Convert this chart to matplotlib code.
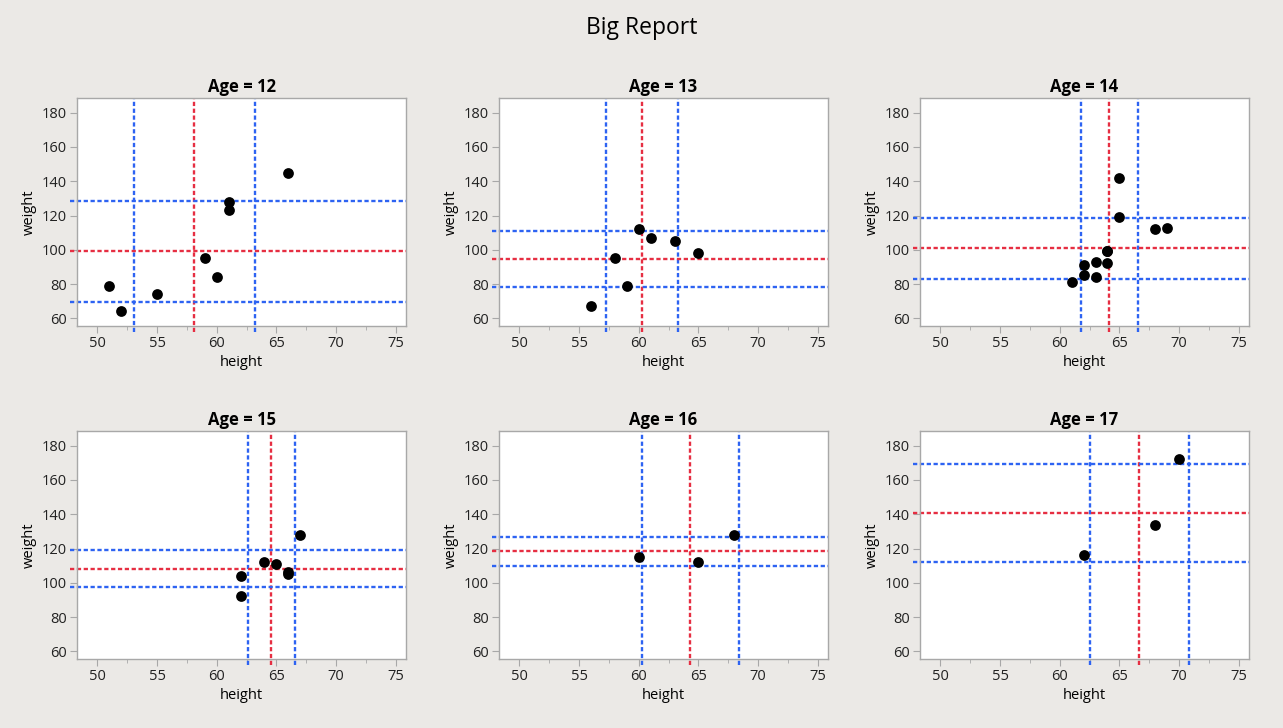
import numpy as np
import matplotlib
matplotlib.use("Agg")
import matplotlib.pyplot as plt

plt.rcParams['font.family'] = ['Open Sans', 'DejaVu Sans']

# Big Class data: age, height, weight per student
ages = [12, 12, 12, 12, 12, 12, 12, 12,
        13, 13, 13, 13, 13, 13, 13,
        14, 14, 14, 14, 14, 14, 14, 14, 14, 14, 14, 14,
        15, 15, 15, 15, 15, 15, 15,
        16, 16, 16,
        17, 17, 17]
heights = [59, 61, 55, 66, 52, 60, 61, 51,
           60, 61, 56, 65, 63, 58, 59,
           61, 62, 65, 63, 62, 63, 64, 65, 64, 68, 64, 69,
           62, 64, 67, 65, 66, 62, 66,
           65, 60, 68,
           62, 68, 70]
weights = [95, 123, 74, 145, 64, 84, 128, 79,
           112, 107, 67, 98, 105, 95, 79,
           81, 91, 142, 84, 85, 93, 99, 119, 92, 112, 99, 113,
           92, 112, 128, 111, 105, 104, 106,
           112, 115, 128,
           116, 134, 172]
age_groups = [12, 13, 14, 15, 16, 17]
x_ticks = [50, 55, 60, 65, 70, 75]
y_ticks = [60, 80, 100, 120, 140, 160, 180]

BG = "#ebe9e6"
RED = "#e62e42"
BLUE = "#2d63f2"
SPINE = "#a8a8a8"

fig = plt.figure(figsize=(12.83, 7.28), dpi=100, facecolor=BG)
fig.text(0.5, 0.962, "Big Report", ha="center", va="center", fontsize=16.5)

W, H = 1283.0, 728.0
lefts = [77, 499, 920]
bottoms = [326, 659]
aw, ah = 329, 228

ages_arr = np.array(ages)
h_arr = np.array(heights, dtype=float)
w_arr = np.array(weights, dtype=float)

for i, age in enumerate(age_groups):
    r, c = divmod(i, 3)
    ax = fig.add_axes([lefts[c] / W, 1 - bottoms[r] / H, aw / W, ah / H])
    ax.set_facecolor("white")
    mask = ages_arr == age
    hx = h_arr[mask]
    wy = w_arr[mask]

    # reference lines: mean (red) and mean +/- 1 sd (blue)
    hm, hs = hx.mean(), hx.std(ddof=1)
    wm, ws = wy.mean(), wy.std(ddof=1)
    dash = (0, (1.8, 1.1))
    for v, col in [(hm - hs, BLUE), (hm + hs, BLUE), (hm, RED)]:
        ax.axvline(v, ymin=-0.028, ymax=1, color=col, lw=1.7,
                   linestyle=dash, clip_on=False, zorder=2)
    for v, col in [(wm - ws, BLUE), (wm + ws, BLUE), (wm, RED)]:
        ax.axhline(v, xmin=-0.022, xmax=1, color=col, lw=1.7,
                   linestyle=dash, clip_on=False, zorder=2)

    ax.scatter(hx, wy, s=60, color="black", zorder=3, linewidths=0)

    ax.set_xlim(48.3, 75.85)
    ax.set_ylim(55.5, 188.6)
    ax.set_xticks(x_ticks)
    ax.set_xticks([52.5, 57.5, 62.5, 67.5, 72.5], minor=True)
    ax.set_yticks(y_ticks)
    ax.tick_params(axis="both", which="major", direction="out", length=5,
                   color=SPINE, labelsize=10.5, labelcolor="#222222", pad=2)
    ax.tick_params(axis="x", which="minor", direction="out", length=3,
                   color=SPINE)
    for s in ax.spines.values():
        s.set_color(SPINE)
        s.set_linewidth(1)
    ax.set_xlabel("height", fontsize=10.5, labelpad=3)
    ax.set_ylabel("weight", fontsize=10.5, labelpad=4)
    ax.set_title(f"Age = {age}", fontsize=12, fontweight="bold", pad=4)

fig.savefig("out.png", dpi=100, facecolor=BG)
